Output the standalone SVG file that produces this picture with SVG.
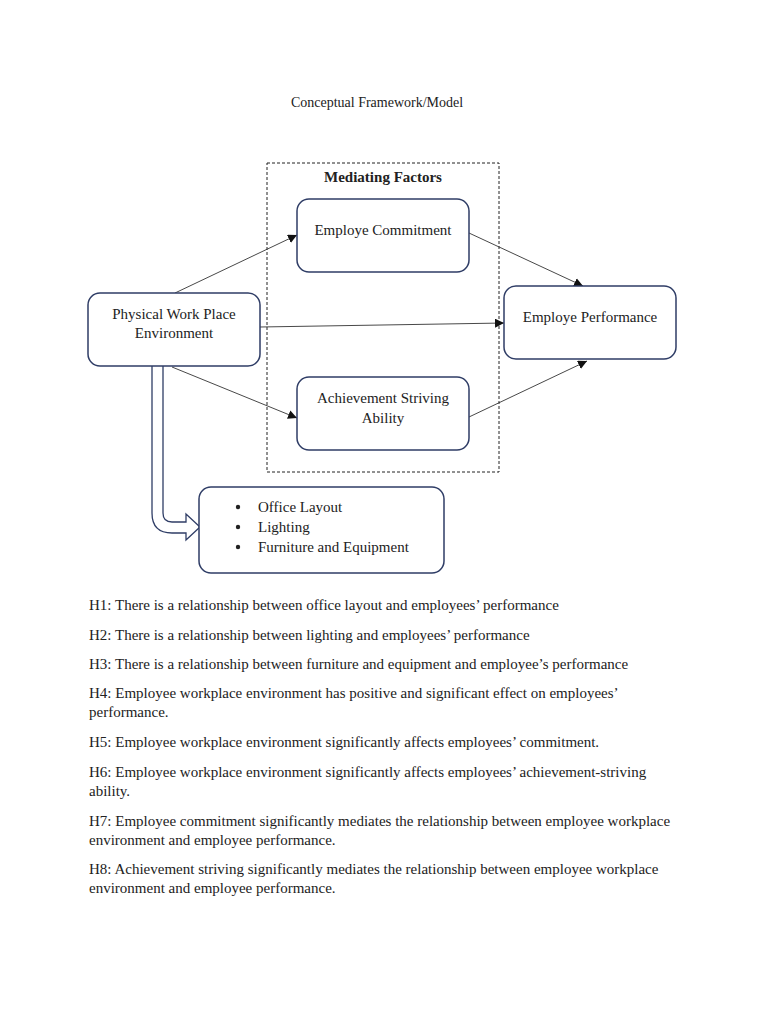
<svg xmlns="http://www.w3.org/2000/svg" width="768" height="1024" viewBox="0 0 768 1024">
<style>
text{font-family:"Liberation Serif","Times New Roman",serif;font-size:15px;fill:#222}
.t{font-size:14px}
.node{fill:#fff;stroke:#2f3d66;stroke-width:1.5}
.c{text-anchor:middle}
.ln{stroke:#333;stroke-width:0.9;fill:none;marker-end:url(#ah)}
</style>
<defs>
<marker id="ah" viewBox="0 0 10 10" refX="10" refY="5" markerWidth="9" markerHeight="9" markerUnits="userSpaceOnUse" orient="auto">
<path d="M0,0 L10,5 L0,10 z" fill="#111"/>
</marker>
</defs>
<rect width="768" height="1024" fill="#fff"/>
<text x="377" y="107" class="c t">Conceptual Framework/Model</text>
<g id="mediating">
<rect x="267" y="163" width="232" height="309" fill="none" stroke="#222" stroke-width="1" stroke-dasharray="3,2"/>
<text x="383" y="182" class="c" font-weight="bold">Mediating Factors</text>
</g>
<g id="connectors">
<line class="ln" x1="175" y1="293" x2="297" y2="235"/>
<line class="ln" x1="260" y1="327" x2="504" y2="323"/>
<line class="ln" x1="172" y1="367" x2="297" y2="418"/>
<line class="ln" x1="469" y1="233" x2="583" y2="286"/>
<line class="ln" x1="469" y1="417" x2="587" y2="361"/>
<path d="M152,366 V513 Q152,533 172,533 H186 V540 L200,527 L186,514 V522 H172 Q163,522 163,513 V366" fill="#fff" stroke="#2f3d66" stroke-width="1.3"/>
</g>
<g id="physical">
<rect class="node" x="88" y="293" width="172" height="73" rx="12"/>
<text x="174" y="319" class="c">Physical Work Place</text>
<text x="174" y="338" class="c">Environment</text>
</g>
<g id="commitment">
<rect class="node" x="297" y="199" width="172" height="73" rx="12"/>
<text x="383" y="235" class="c">Employe Commitment</text>
</g>
<g id="achievement">
<rect class="node" x="297" y="377" width="172" height="73" rx="12"/>
<text x="383" y="403" class="c">Achievement Striving</text>
<text x="383" y="423" class="c">Ability</text>
</g>
<g id="performance">
<rect class="node" x="504" y="286" width="172" height="73" rx="12"/>
<text x="590" y="322" class="c">Employe Performance</text>
</g>
<g id="factors">
<rect class="node" x="199" y="487" width="245" height="86" rx="12"/>
<circle cx="238" cy="507" r="2.2" fill="#222"/>
<circle cx="238" cy="527" r="2.2" fill="#222"/>
<circle cx="238" cy="547" r="2.2" fill="#222"/>
<text x="258" y="512">Office Layout</text>
<text x="258" y="532">Lighting</text>
<text x="258" y="552">Furniture and Equipment</text>
</g>
<g id="hypotheses">
<text x="89" y="610">H1: There is a relationship between office layout and employees’ performance</text>
<text x="89" y="640">H2: There is a relationship between lighting and employees’ performance</text>
<text x="89" y="669">H3: There is a relationship between furniture and equipment and employee’s performance</text>
<text x="89" y="698">H4: Employee workplace environment has positive and significant effect on employees’</text>
<text x="89" y="717">performance.</text>
<text x="89" y="747">H5: Employee workplace environment significantly affects employees’ commitment.</text>
<text x="89" y="777">H6: Employee workplace environment significantly affects employees’ achievement-striving</text>
<text x="89" y="796">ability.</text>
<text x="89" y="826">H7: Employee commitment significantly mediates the relationship between employee workplace</text>
<text x="89" y="845">environment and employee performance.</text>
<text x="89" y="874">H8: Achievement striving significantly mediates the relationship between employee workplace</text>
<text x="89" y="893">environment and employee performance.</text>
</g>
</svg>
